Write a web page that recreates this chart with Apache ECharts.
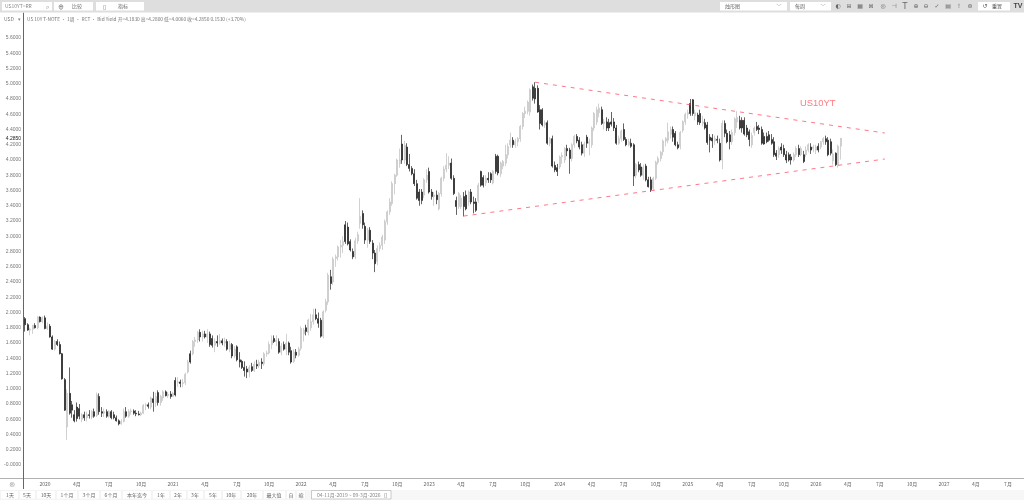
<!DOCTYPE html>
<html>
<head>
<meta charset="utf-8">
<title>US10YT</title>
<style>
html, body { margin: 0; padding: 0; background: #fff; }
#chart { width: 1024px; height: 500px; }
</style>
<script src="https://cdn.jsdelivr.net/npm/echarts@6/dist/echarts.min.js"></script>
</head>
<body>
<div id="chart"></div>
<script>
// weekly candles: [open, high, low, close]
const candles2019 = [
    [1.92,1.94,1.75,1.84],[1.84,1.86,1.76,1.77],[1.77,1.80,1.70,1.78],[1.78,1.84,1.72,1.83],
    [1.83,1.86,1.79,1.80],[1.80,1.95,1.78,1.94],[1.94,1.95,1.87,1.88],[1.88,1.95,1.86,1.93]
];
const candles2020 = [
    [1.93,1.96,1.78,1.79],[1.79,1.87,1.77,1.82],[1.82,1.85,1.67,1.68],[1.68,1.70,1.51,1.52],
    [1.52,1.64,1.50,1.62],[1.62,1.65,1.56,1.58],[1.58,1.62,1.45,1.46],[1.46,1.47,1.12,1.13],
    [1.12,1.14,0.71,0.72],[0.50,0.99,0.33,0.94],[0.94,1.28,0.66,0.68],[0.79,0.84,0.62,0.72],
    [0.66,0.72,0.56,0.58],[0.76,0.82,0.57,0.61],[0.74,0.80,0.60,0.64],[0.60,0.68,0.56,0.66],
    [0.66,0.70,0.58,0.62],[0.62,0.70,0.57,0.66],[0.66,0.72,0.61,0.65],[0.63,0.72,0.60,0.70],
    [0.70,0.74,0.62,0.64],[0.65,0.95,0.63,0.92],[0.90,0.94,0.66,0.70],[0.70,0.76,0.63,0.68],
    [0.68,0.74,0.63,0.70],[0.70,0.73,0.62,0.64],[0.64,0.72,0.62,0.70],[0.70,0.72,0.60,0.62],
    [0.66,0.70,0.60,0.62],[0.62,0.65,0.57,0.58],[0.58,0.60,0.52,0.54],[0.54,0.60,0.53,0.57],
    [0.57,0.74,0.56,0.70],[0.70,0.76,0.62,0.64],[0.64,0.73,0.62,0.70],[0.70,0.74,0.66,0.71],
    [0.71,0.73,0.66,0.68],[0.68,0.72,0.64,0.67],[0.67,0.71,0.65,0.66],[0.66,0.70,0.64,0.68],
    [0.68,0.80,0.67,0.78],[0.78,0.81,0.72,0.79],[0.79,0.82,0.74,0.77],[0.76,0.90,0.73,0.88],
    [0.87,0.96,0.70,0.82],[0.82,0.95,0.76,0.90],[0.95,0.98,0.78,0.82],[0.82,0.92,0.78,0.90],
    [0.88,0.98,0.84,0.96],[0.96,0.98,0.90,0.91],[0.91,0.96,0.88,0.93],[0.93,0.97,0.87,0.90],
    [0.90,0.96,0.89,0.94]
];
const candles2021 = [
    [1.11,1.15,0.90,0.92],[1.08,1.15,1.03,1.09],[1.09,1.12,1.02,1.07],[1.07,1.13,1.02,1.08],
    [1.08,1.21,1.05,1.19],[1.22,1.38,1.20,1.35],[1.46,1.50,1.33,1.35],[1.46,1.64,1.44,1.62],
    [1.62,1.68,1.55,1.64],[1.64,1.76,1.60,1.74],[1.74,1.78,1.62,1.68],[1.68,1.76,1.62,1.72],
    [1.72,1.76,1.66,1.68],[1.68,1.78,1.60,1.72],[1.72,1.75,1.55,1.58],[1.66,1.70,1.54,1.57],
    [1.57,1.66,1.48,1.62],[1.62,1.70,1.55,1.60],[1.60,1.72,1.58,1.63],[1.63,1.66,1.57,1.60],
    [1.60,1.67,1.55,1.62],[1.62,1.65,1.50,1.52],[1.52,1.63,1.48,1.58],[1.58,1.60,1.40,1.43],
    [1.43,1.56,1.40,1.52],[1.55,1.57,1.36,1.38],[1.38,1.48,1.28,1.35],[1.36,1.38,1.26,1.28],
    [1.28,1.36,1.16,1.24],[1.26,1.30,1.14,1.22],[1.22,1.31,1.15,1.28],[1.29,1.34,1.22,1.24],
    [1.24,1.36,1.22,1.32],[1.32,1.38,1.26,1.30],[1.30,1.38,1.27,1.35],[1.35,1.40,1.26,1.33],
    [1.33,1.48,1.30,1.46],[1.46,1.50,1.42,1.47],[1.47,1.62,1.45,1.58],[1.58,1.70,1.52,1.63],
    [1.66,1.70,1.60,1.62],[1.62,1.70,1.56,1.64],[1.62,1.66,1.46,1.48],[1.48,1.60,1.44,1.56],
    [1.58,1.62,1.50,1.52],[1.52,1.72,1.44,1.60],[1.60,1.62,1.44,1.48],[1.50,1.55,1.33,1.35],
    [1.36,1.52,1.34,1.48],[1.48,1.52,1.40,1.44],[1.44,1.55,1.42,1.52],[1.53,1.82,1.50,1.79]
];
const candles2022 = [
    [1.72,1.80,1.62,1.77],[1.80,1.84,1.70,1.75],[1.74,1.92,1.70,1.90],[1.80,1.98,1.76,1.88],
    [1.88,2.05,1.84,1.97],[1.97,2.05,1.90,1.92],[1.92,2.00,1.80,1.86],[1.90,1.93,1.67,1.69],
    [1.69,2.03,1.66,2.01],[2.03,2.18,2.00,2.14],[2.14,2.52,2.10,2.49],[2.47,2.56,2.30,2.38],
    [2.40,2.73,2.36,2.70],[2.71,2.76,2.60,2.73],[2.73,2.88,2.68,2.86],[2.86,2.95,2.72,2.88],
    [2.88,3.00,2.78,2.93],[3.15,3.20,2.90,2.93],[3.12,3.18,2.88,2.90],[2.93,2.96,2.80,2.82],
    [2.80,2.84,2.70,2.73],[2.73,2.98,2.70,2.94],[2.94,3.06,2.90,3.02],[3.17,3.50,3.10,3.26],
    [3.30,3.34,3.10,3.15],[3.13,3.18,2.90,2.95],[2.95,3.11,2.85,3.08],[3.08,3.12,2.90,2.93],
    [2.91,2.95,2.70,2.78],[2.78,2.82,2.53,2.64],[2.67,2.88,2.62,2.84],[2.84,2.92,2.80,2.88],
    [2.88,3.02,2.82,2.99],[2.95,3.22,2.90,3.19],[3.19,3.34,3.15,3.32],[3.32,3.50,3.28,3.45],
    [3.43,3.72,3.40,3.69],[3.69,3.82,3.55,3.80],[3.80,4.02,3.78,4.00],[3.95,4.15,3.90,4.00],
    [4.21,4.33,3.95,4.00],[4.00,4.25,3.95,4.19],[4.17,4.22,3.92,3.94],[3.94,4.08,3.85,3.89],
    [3.89,3.92,3.80,3.82],[3.82,3.88,3.66,3.69],[3.69,3.74,3.48,3.50],[3.58,3.62,3.40,3.47],
    [3.58,3.62,3.42,3.47],[3.54,3.76,3.50,3.74],[3.74,3.88,3.70,3.80],[3.85,3.90,3.56,3.58]
];
const candles2023 = [
    [3.58,3.62,3.48,3.52],[3.52,3.58,3.40,3.54],[3.54,3.60,3.42,3.48],[3.36,3.58,3.34,3.56],
    [3.56,3.78,3.52,3.76],[3.76,3.92,3.72,3.88],[3.88,4.09,3.84,3.93],[3.93,4.05,3.88,3.96],
    [3.96,4.02,3.74,3.76],[3.76,3.80,3.54,3.56],[3.47,3.52,3.28,3.39],[3.39,3.58,3.36,3.56],
    [3.39,3.54,3.36,3.50],[3.52,3.58,3.26,3.39],[3.54,3.60,3.34,3.36],[3.45,3.60,3.40,3.58],
    [3.58,3.62,3.42,3.45],[3.45,3.52,3.30,3.43],[3.45,3.50,3.32,3.34],[3.47,3.70,3.44,3.67],
    [3.85,3.86,3.65,3.67],[3.77,3.80,3.64,3.67],[3.70,3.80,3.66,3.76],[3.76,3.84,3.70,3.74],
    [3.82,3.84,3.70,3.74],[3.70,3.87,3.68,3.85],[4.05,4.08,3.82,3.85],[4.05,4.07,3.80,3.83],
    [3.82,3.98,3.78,3.96],[3.92,4.00,3.88,3.98],[3.96,4.20,3.92,4.07],[4.07,4.22,4.02,4.18],
    [4.20,4.36,4.16,4.26],[4.26,4.30,4.16,4.20],[4.20,4.28,4.16,4.24],[4.24,4.30,4.18,4.28],
    [4.28,4.46,4.24,4.44],[4.44,4.63,4.40,4.61],[4.61,4.70,4.55,4.64],[4.64,4.78,4.60,4.76],
    [4.63,4.94,4.58,4.92],[4.96,4.99,4.78,4.81],[4.94,5.02,4.74,4.80],[4.94,4.98,4.62,4.63],
    [4.66,4.72,4.40,4.48],[4.66,4.68,4.44,4.46],[4.46,4.52,4.42,4.49],[4.49,4.52,4.20,4.22],
    [4.22,4.30,4.18,4.28],[4.28,4.32,3.90,3.92],[3.93,3.98,3.84,3.87],[3.90,3.95,3.79,3.85]
];
const candles2024 = [
    [3.91,4.06,3.88,4.04],[4.04,4.10,3.95,4.06],[4.00,4.17,3.96,4.15],[4.15,4.20,4.05,4.12],
    [4.13,4.16,3.82,4.02],[4.02,4.22,3.98,4.20],[4.20,4.33,4.16,4.31],[4.31,4.34,4.22,4.25],
    [4.26,4.30,4.14,4.17],[4.20,4.24,4.06,4.09],[4.09,4.24,4.04,4.21],[4.30,4.33,4.16,4.22],
    [4.22,4.28,4.06,4.24],[4.20,4.44,4.16,4.42],[4.42,4.63,4.38,4.61],[4.50,4.70,4.46,4.66],
    [4.62,4.74,4.56,4.68],[4.66,4.70,4.46,4.48],[4.48,4.54,4.40,4.50],[4.50,4.56,4.38,4.42],
    [4.49,4.54,4.38,4.42],[4.50,4.63,4.44,4.47],[4.50,4.55,4.38,4.42],[4.42,4.46,4.20,4.22],
    [4.22,4.32,4.20,4.28],[4.28,4.40,4.24,4.38],[4.40,4.48,4.25,4.27],[4.27,4.30,4.18,4.20],
    [4.20,4.28,4.18,4.24],[4.22,4.28,4.16,4.18],[4.20,4.22,3.66,3.79],[3.80,3.96,3.76,3.94],
    [3.94,3.98,3.84,3.87],[3.91,3.96,3.78,3.80],[3.80,3.94,3.74,3.90],[3.92,3.95,3.72,3.74],
    [3.74,3.78,3.64,3.65],[3.74,3.78,3.58,3.61],[3.63,3.78,3.60,3.76],[3.76,3.99,3.74,3.97],
    [3.97,4.05,3.94,4.02],[4.02,4.12,3.98,4.10],[4.11,4.27,4.06,4.25],[4.25,4.30,4.18,4.28],
    [4.26,4.49,4.22,4.37],[4.34,4.44,4.28,4.40],[4.40,4.44,4.24,4.30],[4.35,4.38,4.18,4.20],
    [4.20,4.24,4.14,4.16],[4.18,4.38,4.14,4.36],[4.39,4.52,4.36,4.50],[4.50,4.62,4.46,4.60],
    [4.60,4.66,4.54,4.62]
];
const candles2025 = [
    [4.74,4.80,4.58,4.61],[4.79,4.80,4.58,4.61],[4.58,4.66,4.52,4.62],[4.59,4.62,4.46,4.50],
    [4.61,4.66,4.46,4.49],[4.48,4.58,4.44,4.50],[4.49,4.54,4.40,4.42],[4.46,4.50,4.20,4.23],
    [4.30,4.34,4.10,4.26],[4.29,4.34,4.16,4.25],[4.25,4.32,4.20,4.28],[4.27,4.32,4.22,4.26],
    [4.22,4.28,3.98,4.00],[4.00,4.52,3.88,4.48],[4.48,4.52,4.30,4.35],[4.35,4.40,4.22,4.24],
    [4.33,4.38,4.14,4.24],[4.24,4.40,4.20,4.36],[4.36,4.56,4.32,4.54],[4.50,4.64,4.42,4.56],
    [4.52,4.58,4.40,4.42],[4.52,4.56,4.36,4.42],[4.52,4.56,4.32,4.34],[4.42,4.46,4.30,4.33],
    [4.37,4.40,4.18,4.27],[4.20,4.36,4.16,4.32],[4.36,4.44,4.32,4.42],[4.44,4.50,4.38,4.40],
    [4.42,4.46,4.34,4.40],[4.40,4.44,4.20,4.22],[4.31,4.36,4.20,4.21],[4.31,4.36,4.22,4.24],
    [4.33,4.38,4.24,4.26],[4.27,4.34,4.20,4.22],[4.24,4.30,4.04,4.07],[4.09,4.13,4.00,4.05],
    [4.07,4.18,4.03,4.15],[4.17,4.22,4.08,4.13],[4.15,4.20,4.04,4.07],[4.07,4.12,3.96,4.00],
    [4.07,4.10,3.98,4.00],[4.04,4.08,3.94,4.00],[4.00,4.10,3.98,4.07],[4.07,4.18,4.04,4.15],
    [4.15,4.20,4.04,4.07],[4.07,4.18,4.05,4.15],[4.07,4.12,3.96,3.98],[4.07,4.18,4.04,4.13],
    [4.13,4.22,4.10,4.20],[4.17,4.22,4.08,4.13],[4.15,4.20,4.10,4.17],[4.13,4.20,4.08,4.17]
];
const candles2026 = [
    [4.18,4.22,4.10,4.13],[4.17,4.25,4.14,4.24],[4.24,4.30,4.20,4.28],[4.28,4.32,4.20,4.24],
    [4.26,4.30,4.05,4.07],[4.24,4.28,4.06,4.09],[3.99,4.14,3.94,4.08],[4.09,4.10,3.92,3.94],
    [3.93,4.20,3.90,4.18],[4.183,4.28,4.006,4.285]
];

const firstWeek = '2019-11-04';
const weekCount = 406;

const yTicks = [0, 0.2, 0.4, 0.6, 0.8, 1, 1.2, 1.4, 1.6, 1.8, 2, 2.2, 2.4, 2.6, 2.8, 3, 3.2, 3.4, 3.6, 3.8, 4, 4.2, 4.285, 4.4, 4.6, 4.8, 5, 5.2, 5.4, 5.6];
const lastPrice = 4.285;

// trend lines as [week index, yield]
const upperTrend = [[207, 5.02], [349, 4.354]];
const lowerTrend = [[178, 3.265], [349, 4.013]];
const trendName = 'US10YT';

const headerText = 'US 10Y T-NOTE · 1周 · RCT · Bid Yield 开=4.1830 高=4.2800 低=4.0060 收=4.2850 0.1530 (+3.70%)';
const rangeButtons = ['1天', '5天', '10天', '1个月', '3个月', '6个月', '本年迄今', '1年', '2年', '3年', '5年', '10年', '20年', '最大值', '自', '缩'];
const toolIcons = ['◐', '⊞', '▦', '⊠', '◎', '⊣', 'T', '⊕', '⊖', '✓', '▤', '!', '⊛'];
const dateRange = '04-11月-2019 ~ 09-3月-2026';

const candles = [].concat(candles2019, candles2020, candles2021, candles2022, candles2023, candles2024, candles2025, candles2026);

const weeks = [];
for (let i = 0; i < weekCount; i++) {
    const d = new Date(Date.parse(firstWeek) + i * 7 * 86400000);
    weeks.push(d.toISOString().slice(0, 10));
}

// the week holding the 1st of a quarter gets a label
function quarterLabel(week) {
    const end = new Date(Date.parse(week) + 6 * 86400000);
    const month = end.getUTCMonth();
    if (end.getUTCDate() > 7 || month % 3 !== 0) {
        return '';
    }
    return month === 0 ? String(end.getUTCFullYear()) : (month + 1) + '月';
}

const cjk = '"Noto Sans CJK SC", "Liberation Sans", sans-serif';

function box(x, y, w, h, fill, stroke) {
    return { type: 'rect', silent: true, z: 10, shape: { x: x, y: y, width: w, height: h },
        style: { fill: fill, stroke: stroke || null, lineWidth: 0.5 } };
}
function label(text, x, y, size, color, align, family, weight) {
    return { type: 'text', silent: true, z: 11, x: x, y: y,
        style: { text: text, fill: color, align: align || 'center', verticalAlign: 'middle',
            font: (weight || 'normal') + ' ' + size + 'px ' + (family || cjk) } };
}

function chrome() {
    const items = [
        box(0, 0, 1024, 12.5, '#dedede'),
        box(2, 2, 50, 8.5, '#fff'),
        label('US10YT=RR', 5, 6.5, 5, '#888', 'left'),
        label('⌕', 47, 6.5, 6, '#777'),
        box(54, 2, 39, 8.5, '#fff'),
        label('⊕', 61, 6.5, 6, '#555'),
        label('比较', 77, 6.5, 5, '#666'),
        box(96, 2, 48, 8.5, '#fff'),
        label('▯', 104, 6.5, 6, '#777'),
        label('指标', 123, 6.5, 5, '#666'),
        box(720, 2, 67, 8.5, '#fff'),
        label('烛形图', 725, 6.5, 5, '#666', 'left'),
        label('﹀', 779, 6.5, 5, '#777'),
        box(790, 2, 41, 8.5, '#fff'),
        label('每周', 795, 6.5, 5, '#555', 'left'),
        label('﹀', 823, 6.5, 5, '#777'),
        box(978, 2, 32, 8.5, '#fff'),
        label('↺', 985, 6.5, 6, '#555', 'center', 'DejaVu Sans'),
        label('重置', 997, 6.5, 5, '#555'),
        label('TV', 1018, 6.5, 7, '#444', 'center', '"Liberation Sans"', 'bold'),
        label('USD', 4, 19, 5, '#777', 'left'),
        label('▾', 19, 19, 5, '#888'),
        label(headerText, 27, 19, 4.8, '#777', 'left'),
        label(trendName, 800, 103.5, 9.4, '#ff7a80', 'left', '"Liberation Sans"'),
        { type: 'line', silent: true, z: 9, shape: { x1: 0, y1: 478.5, x2: 1024, y2: 478.5 }, style: { stroke: '#b0b0b0', lineWidth: 1 } },
        { type: 'line', silent: true, z: 9, shape: { x1: 23.5, y1: 478, x2: 23.5, y2: 489 }, style: { stroke: '#666', lineWidth: 1 } },
        label('◎', 12, 484, 6, '#666', 'center', 'DejaVu Sans'),
        box(0, 490, 1024, 10, '#f7f7f7'),
        box(311.5, 490.5, 79.5, 8.5, '#fff', '#999'),
        label(dateRange, 317, 494.8, 5, '#888', 'left'),
        label('▯', 385, 494.8, 6, '#777')
    ];
    const centers = [10, 27, 46, 67, 89, 111, 137, 161, 178, 195, 213, 231, 252, 274, 291, 301];
    const edges = [0, 19, 36, 56, 78, 100, 122, 152, 170, 187, 204, 222, 241, 263, 286, 296, 306];
    rangeButtons.forEach(function (text, i) {
        items.push(box(edges[i] + 0.5, 490.5, edges[i + 1] - edges[i] - 1, 8.5, '#fff', '#ececec'));
        items.push(label(text, centers[i], 494.8, 5, '#666'));
    });
    toolIcons.forEach(function (icon, i) {
        const x = [838, 849, 860, 871, 883, 894, 905, 916, 926, 937, 948, 959, 970][i];
        items.push(label(icon, x, 6.5, icon === 'T' ? 8 : 6, '#666', 'center', 'DejaVu Sans'));
    });
    return items;
}

const chart = echarts.init(document.getElementById('chart'), null, { renderer: 'canvas' });
chart.setOption({
    animation: false,
    backgroundColor: '#fff',
    grid: { left: 24, width: 1000, top: 13, height: 465 },
    xAxis: {
        type: 'category',
        data: weeks,
        boundaryGap: true,
        axisLine: { show: false },
        axisTick: { show: false },
        splitLine: { show: false },
        axisLabel: {
            interval: function (index, value) { return quarterLabel(value) !== ''; },
            formatter: function (value) { return quarterLabel(value); },
            fontSize: 5,
            color: '#666',
            margin: 4,
            fontFamily: cjk
        }
    },
    yAxis: {
        type: 'value',
        min: -0.17,
        max: 5.928,
        offset: 1,
        axisLine: { show: true, lineStyle: { color: '#666', width: 1 } },
        axisTick: { show: false },
        splitLine: { show: false },
        axisLabel: {
            customValues: yTicks,
            margin: 2,
            fontSize: 5,
            color: '#777',
            fontFamily: '"Liberation Sans", sans-serif',
            formatter: function (value) {
                if (value === lastPrice) {
                    return '{last|' + value.toFixed(4) + '}';
                }
                return value === 0 ? '-0.0000' : value.toFixed(4);
            },
            rich: { last: { color: '#222', fontSize: 5, fontFamily: '"Liberation Sans", sans-serif' } }
        }
    },
    series: [{
        type: 'candlestick',
        barWidth: 1.5,
        // ECharts wants open, close, low, high
        data: candles.map(function (c) { return [c[0], c[3], c[2], c[1]]; }),
        itemStyle: {
            color: '#f0f0f0',
            borderColor: '#bdbdbd',
            color0: '#000',
            borderColor0: '#222',
            borderWidth: 0.7
        },
        markLine: {
            silent: true,
            symbol: 'none',
            label: { show: false },
            lineStyle: { color: '#ff5468', type: [4, 5], width: 0.8 },
            data: [
                [{ coord: upperTrend[0] }, { coord: upperTrend[1] }],
                [{ coord: lowerTrend[0] }, { coord: lowerTrend[1] }]
            ]
        }
    }],
    graphic: chrome()
});
</script>
</body>
</html>
